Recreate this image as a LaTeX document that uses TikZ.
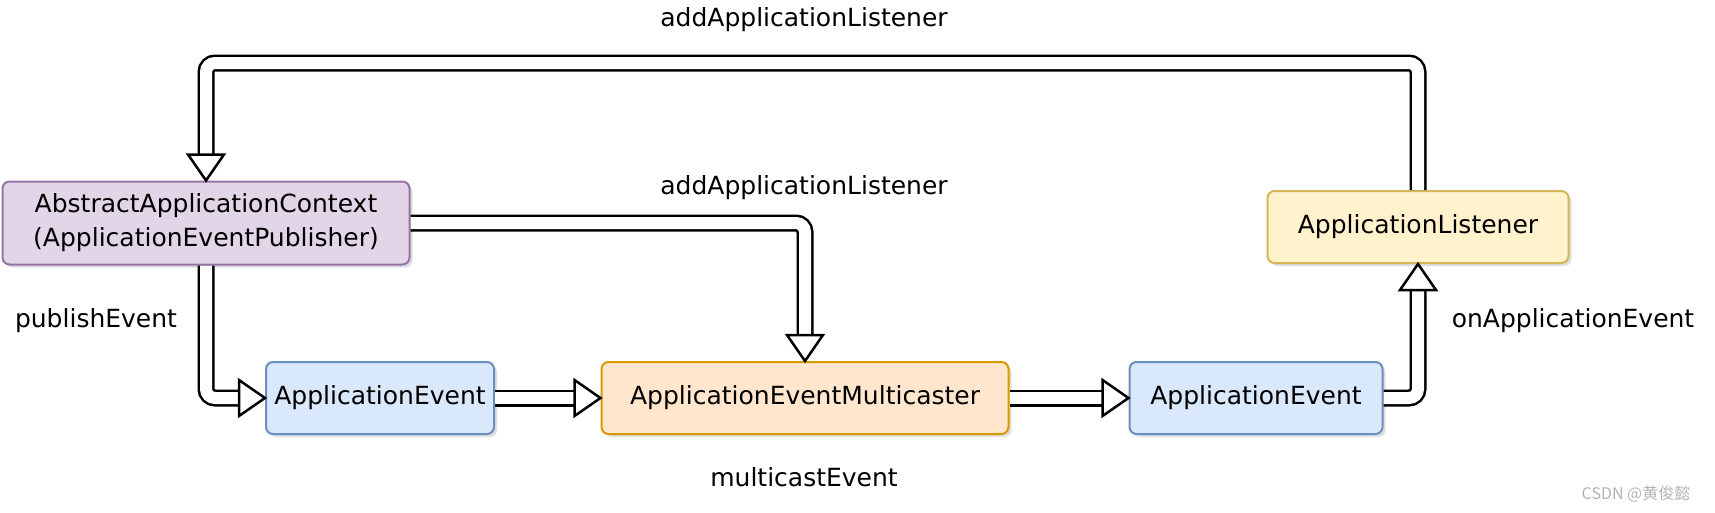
\documentclass[tikz,border=0pt]{standalone}
\usepackage{fontspec}
\setmainfont{DejaVu Sans}
\newfontfamily\cjk{Noto Sans CJK SC}
\usetikzlibrary{calc}
\usetikzlibrary{shadows}
\definecolor{purpleF}{HTML}{E1D5E7}\definecolor{purpleD}{HTML}{9673A6}
\definecolor{blueF}{HTML}{DAE8FC}\definecolor{blueD}{HTML}{6C8EBF}
\definecolor{orangeF}{HTML}{FFE6CC}\definecolor{orangeD}{HTML}{D79B00}
\definecolor{yellowF}{HTML}{FFF2CC}\definecolor{yellowD}{HTML}{D6B656}
\tikzset{
	box/.style = {draw, rounded corners = 7pt, line width = 2pt, align = center,
		drop shadow = {opacity = 0.25, shadow xshift = 3pt, shadow yshift = -3pt}},
	shaft/.style = {double = white, double distance = 12pt, line width = 2.5pt, rounded corners = 9pt},
	lbl/.style = {font = {\fontsize{25pt}{30}\selectfont}}
}
\newcommand{\htip}[2]{%
	\begin{scope}[shift = {(#1)}, rotate = #2]
	\draw[fill = white, line width = 2.5pt, line join = miter] (0,0) -- (-26,18) -- (-26,-18) -- cycle;
	\end{scope}}

\begin{document}
\begin{tikzpicture}[x = 1pt, y = -1pt, font = {\fontsize{25pt}{34}\selectfont}]
\useasboundingbox (0,0) rectangle (1715,512);

\node[box, fill = purpleF, draw = purpleD, minimum width = 407pt, minimum height = 83pt] (AAC) at (206,223) {AbstractApplicationContext \\ (ApplicationEventPublisher)};
\node[box, fill = blueF, draw = blueD, minimum width = 228pt, minimum height = 72pt] (AE1) at (380,398) {ApplicationEvent};
\node[box, fill = orangeF, draw = orangeD, minimum width = 407pt, minimum height = 72pt] (MC) at (805,398) {ApplicationEventMulticaster};
\node[box, fill = blueF, draw = blueD, minimum width = 253pt, minimum height = 72pt] (AE2) at (1256,398) {ApplicationEvent};
\node[box, fill = yellowF, draw = yellowD, minimum width = 301pt, minimum height = 72pt] (AL) at (1418,227) {ApplicationListener};

\node[lbl] (addTop) at (804,20) {addApplicationListener};
\node[lbl] (addMid) at (804,188) {addApplicationListener};
\node[lbl] (publish) at (96,321) {publishEvent};
\node[lbl] (multicast) at (804,477) {multicastEvent};
\node[lbl] (onEvent) at (1573,321) {onApplicationEvent};
\node[gray!60, font = {\cjk\fontsize{16pt}{18}\selectfont}] (csdn) at (1636,494) {CSDN @黄俊懿};

\coordinate (topR) at (AL.north |- 0,63);
\coordinate (topL) at (AAC.north |- 0,63);
\coordinate (midR) at (MC.north |- AAC.east);
\coordinate (lowL) at (AAC.south |- AE1.west);
\coordinate (lowR) at (AL.south |- AE2.east);

\draw[shaft] (AL.north) -- (topR) -- (topL) -- ($(AAC.north)+(0,-26)$);
\htip{AAC.north}{-90}
\draw[shaft] (AAC.east) -- (midR) -- ($(MC.north)+(0,-26)$);
\htip{MC.north}{-90}
\draw[shaft] (AAC.south) -- (lowL) -- ($(AE1.west)+(-26,0)$);
\htip{AE1.west}{0}
\draw[shaft] (AE1.east) -- ($(MC.west)+(-26,0)$);
\htip{MC.west}{0}
\draw[shaft] (MC.east) -- ($(AE2.west)+(-26,0)$);
\htip{AE2.west}{0}
\draw[shaft] (AE2.east) -- (lowR) -- ($(AL.south)+(0,26)$);
\htip{AL.south}{90}
\end{tikzpicture}
\end{document}
